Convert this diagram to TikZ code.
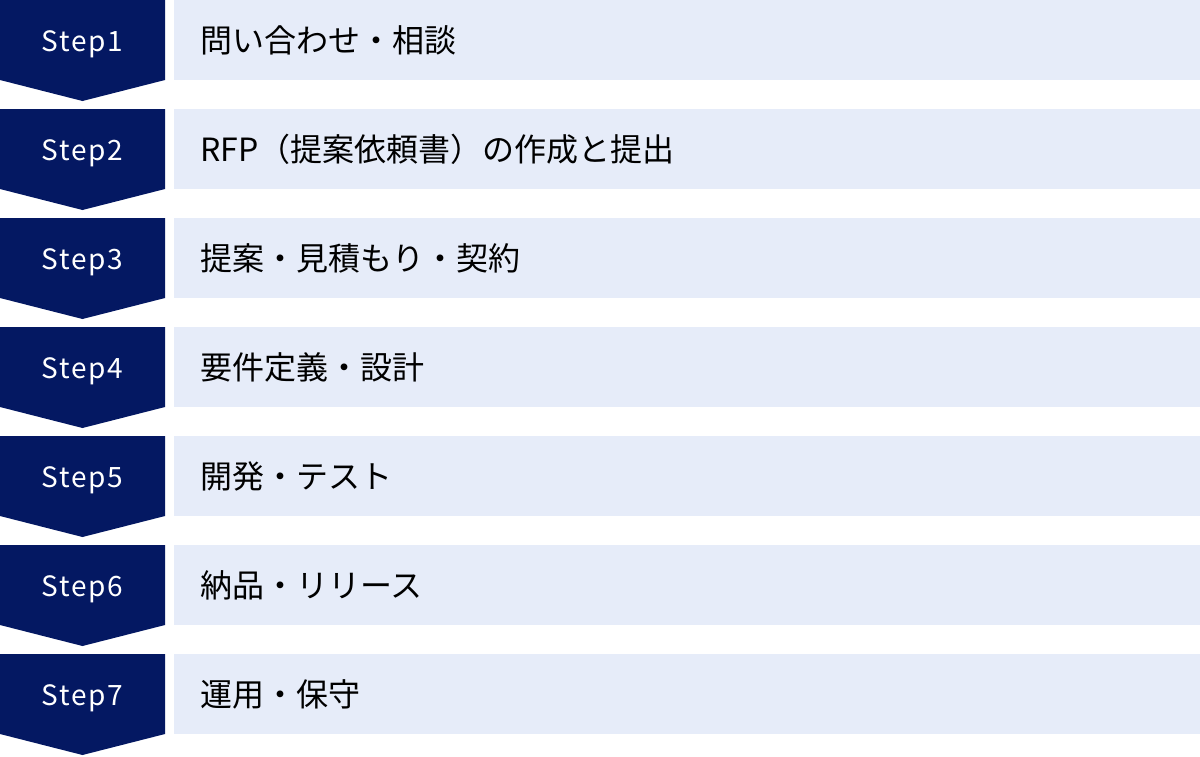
\documentclass[tikz,border=0pt]{standalone}
\usepackage{fontspec}
\setmainfont{Noto Sans}
\newfontfamily\jpfont{Noto Sans CJK JP}
\newfontfamily\stepfont[LetterSpace=6]{Noto Sans CJK JP}
\definecolor{navy}{HTML}{041862}
\definecolor{pale}{HTML}{E6ECF9}
\tikzset{
  steplabel/.style={anchor=base, text=white, inner sep=0pt, font=\stepfont\fontsize{28}{32}\selectfont},
  tasklabel/.style={anchor=west, inner sep=0pt, text=black, font=\jpfont\fontsize{32}{36}\selectfont}
}
\begin{document}
\begin{tikzpicture}[x=1pt, y=-1pt]
  \useasboundingbox (0,0) rectangle (1200,756);

  % Flechas Step a la izda.
  \foreach \i in {1,...,7}
  {\fill[navy] (0,{(\i-1)*109}) -- ++(165,0) -- ++(0,80) -- ++(-82.5,21) -- ++(-82.5,-21) -- cycle;
   \node[steplabel] (step\i) at (82.5,{(\i-1)*109+51}) {Step\i};}

  % Cajas de tareas
  \foreach \i/\t in {1/問い合わせ・相談, 2/RFP（提案依頼書）の作成と提出, 3/提案・見積もり・契約,
    4/要件定義・設計, 5/開発・テスト, 6/納品・リリース, 7/運用・保守}
  {\fill[pale] (174,{(\i-1)*109}) rectangle (1200,{(\i-1)*109+80});
   \node[tasklabel] (task\i) at (200,{(\i-1)*109+40}) {\t};}
\end{tikzpicture}
\end{document}
